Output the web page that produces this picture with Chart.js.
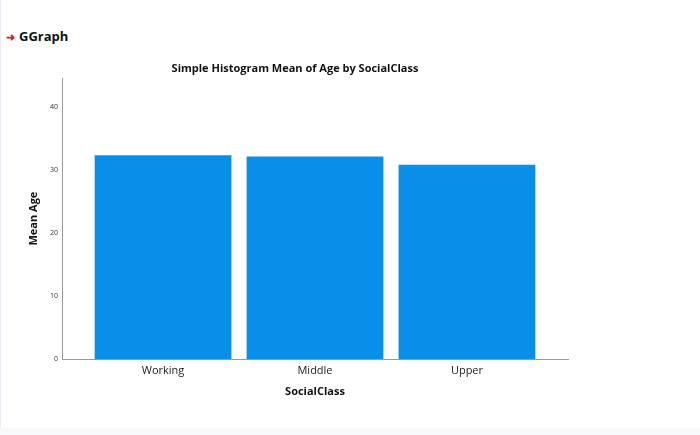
<!DOCTYPE html>
<html>
<head>
<meta charset="utf-8">
<script src="https://cdn.jsdelivr.net/npm/chart.js@4"></script>
<style>
  html, body { margin: 0; padding: 0; background: #fff; }
  body { width: 700px; height: 435px; position: relative; overflow: hidden; font-family: "Open Sans", sans-serif; }
  #hdr { position: absolute; left: 6px; top: 27px; font-weight: bold; font-size: 13px; color: #111; }
  #hdr .arr { color: #e02020; font-size: 11px; margin-right: 4px; }
  #lb { position: absolute; left: 0; top: 0; width: 1px; height: 435px; background: #e6ecf2; }
  #bb { position: absolute; left: 0; top: 428px; width: 700px; height: 7px; background: #f8f9fa; }
  #wrap { position: absolute; left: 0; top: 0; width: 700px; height: 435px; }
</style>
</head>
<body>
<div id="lb"></div>
<div id="bb"></div>
<div id="hdr"><span class="arr">&#10140;</span>GGraph</div>
<div id="wrap"><canvas id="c" width="700" height="435"></canvas></div>
<script>
const categories = ["Working", "Middle", "Upper"];
const meanAge = [32.3, 32.1, 30.8];
const yTicks = [0, 10, 20, 30, 40];

const points = meanAge.map((v, i) => ({ x: i, y: v }));

new Chart(document.getElementById('c'), {
  type: 'bar',
  data: {
    datasets: [{
      data: points,
      backgroundColor: '#0a8fe8',
      borderWidth: 0,
      barPercentage: 0.9,
      categoryPercentage: 1.0
    }]
  },
  options: {
    responsive: false,
    animation: false,
    devicePixelRatio: 1,
    layout: { padding: { top: 62, left: 22, right: 132, bottom: 31 } },
    plugins: {
      legend: { display: false },
      tooltip: { enabled: false },
      title: {
        display: true,
        text: 'Simple Histogram Mean of Age by SocialClass',
        color: '#111',
        font: { family: 'Open Sans', size: 11, weight: 'bold', lineHeight: 1.2 },
        padding: { top: 0, bottom: 3 }
      }
    },
    scales: {
      x: {
        type: 'linear',
        offset: false,
        min: -0.665,
        max: 2.665,
        grid: { display: false, drawTicks: false, offset: false },
        border: { display: true, color: '#999', width: 1 },
        afterBuildTicks: (s) => { s.ticks = categories.map((_, i) => ({ value: i })); },
        afterFit: (s) => { s.height = 45; },
        ticks: {
          autoSkip: false,
          maxRotation: 0,
          padding: 5,
          color: '#222',
          font: { family: 'Open Sans', size: 11 },
          callback: (v) => categories[v] !== undefined ? categories[v] : ''
        },
        title: {
          display: true,
          text: 'SocialClass',
          color: '#111',
          font: { family: 'Open Sans', size: 11, weight: 'bold', lineHeight: 1.2 },
          padding: { top: 0, bottom: 6 }
        }
      },
      y: {
        min: 0,
        max: 44.5,
        grid: { display: false, drawTicks: false },
        border: { display: true, color: '#999', width: 1 },
        afterBuildTicks: (s) => { s.ticks = yTicks.map(v => ({ value: v })); },
        afterFit: (s) => { s.width = 40; },
        ticks: {
          padding: 4,
          color: '#333',
          font: { family: 'Open Sans', size: 7 }
        },
        title: {
          display: true,
          text: 'Mean Age',
          color: '#111',
          font: { family: 'Open Sans', size: 11, weight: 'bold', lineHeight: 1.2 },
          padding: { top: 5, bottom: 0 }
        }
      }
    }
  }
});
</script>
</body>
</html>
